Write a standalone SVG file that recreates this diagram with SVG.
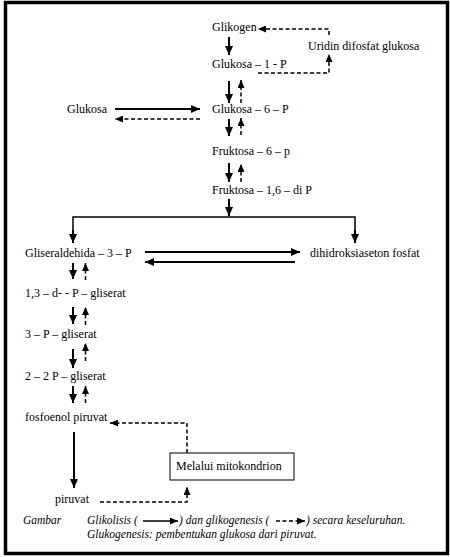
<svg xmlns="http://www.w3.org/2000/svg" width="450" height="557" viewBox="0 0 450 557">
<style>
text{font-family:"Liberation Serif","Times New Roman",serif;font-size:12px;fill:#000}
.cap{font-style:italic;font-size:11.5px}
.s{stroke:#000;stroke-width:2;fill:none}
.t{stroke:#000;stroke-width:1.5;fill:none}
.d{stroke:#000;stroke-width:1.5;fill:none;stroke-dasharray:4 2.5}
</style>
<defs>
<marker id="ah" markerUnits="userSpaceOnUse" markerWidth="9" markerHeight="8" refX="9" refY="4" orient="auto">
<path d="M0,0 L9,4 L0,8 z" fill="#000"/>
</marker>
<marker id="ahd" markerUnits="userSpaceOnUse" markerWidth="8" markerHeight="7" refX="8" refY="3.5" orient="auto">
<path d="M0,0 L8,3.5 L0,7 z" fill="#000"/>
</marker>
</defs>
<rect x="5.5" y="2.5" width="442" height="551" fill="#fff" stroke="#000" stroke-width="3.5"/>

<g id="glikogen"><text x="212" y="31">Glikogen</text></g>
<g id="udpg"><text x="308" y="50">Uridin difosfat glukosa</text></g>
<g id="g1p"><text x="212" y="68">Glukosa – 1 - P</text></g>
<g id="glukosa"><text x="67" y="113">Glukosa</text></g>
<g id="g6p"><text x="212" y="113">Glukosa – 6 – P</text></g>
<g id="f6p"><text x="212" y="155">Fruktosa – 6 – p</text></g>
<g id="f16p"><text x="212" y="194">Fruktosa – 1,6 – di P</text></g>
<g id="g3p"><text x="25" y="257">Gliseraldehida – 3 – P</text></g>
<g id="dhap"><text x="310" y="257">dihidroksiaseton fosfat</text></g>
<g id="bpg"><text x="25" y="297">1,3 – d- - P – gliserat</text></g>
<g id="pg3"><text x="25" y="338">3 – P – gliserat</text></g>
<g id="pg2"><text x="25" y="380">2 – 2 P – gliserat</text></g>
<g id="pep"><text x="25" y="421">fosfoenol piruvat</text></g>
<g id="mito"><rect x="170" y="453" width="124" height="27" fill="#fff" stroke="#000" stroke-width="1"/><text x="176" y="470">Melalui mitokondrion</text></g>
<g id="piruvat"><text x="55" y="503">piruvat</text></g>

<g id="connectors">
<polyline class="d" points="258,73 329,73 329,54" marker-end="url(#ahd)"/>
<polyline class="d" points="329,35 329,29 258,29" marker-end="url(#ahd)"/>
<line class="s" x1="229" y1="37" x2="229" y2="55" marker-end="url(#ah)"/>
<line class="s" x1="229" y1="81" x2="229" y2="103" marker-end="url(#ah)"/>
<line class="d" x1="241" y1="103" x2="241" y2="80" marker-end="url(#ahd)"/>
<line class="s" x1="229" y1="119" x2="229" y2="136" marker-end="url(#ah)"/>
<line class="d" x1="241" y1="135" x2="241" y2="118" marker-end="url(#ahd)"/>
<line class="s" x1="229" y1="163" x2="229" y2="182" marker-end="url(#ah)"/>
<line class="d" x1="241" y1="182" x2="241" y2="164" marker-end="url(#ahd)"/>
<line class="s" x1="115" y1="109" x2="200" y2="109" marker-end="url(#ah)"/>
<line class="d" x1="200" y1="119" x2="115" y2="119" marker-end="url(#ahd)"/>
<line class="s" x1="229" y1="199" x2="229" y2="216" marker-end="url(#ah)"/>
<polyline class="t" points="73,243 73,217 355,217 355,243"/>
<line class="s" x1="73" y1="230" x2="73" y2="243" marker-end="url(#ah)"/>
<line class="s" x1="355" y1="230" x2="355" y2="243" marker-end="url(#ah)"/>
<line class="s" x1="145" y1="252" x2="300" y2="252" marker-end="url(#ah)"/>
<line class="s" x1="295" y1="262" x2="145" y2="262" marker-end="url(#ah)"/>
<line class="s" x1="73" y1="263" x2="73" y2="279" marker-end="url(#ah)"/>
<line class="d" x1="85.5" y1="280" x2="85.5" y2="263" marker-end="url(#ahd)"/>
<line class="s" x1="73" y1="307" x2="73" y2="324" marker-end="url(#ah)"/>
<line class="d" x1="85.5" y1="325" x2="85.5" y2="307" marker-end="url(#ahd)"/>
<line class="s" x1="73" y1="349" x2="73" y2="368" marker-end="url(#ah)"/>
<line class="d" x1="85.5" y1="361" x2="85.5" y2="343" marker-end="url(#ahd)"/>
<line class="s" x1="73" y1="386" x2="73" y2="403" marker-end="url(#ah)"/>
<line class="d" x1="85.5" y1="403" x2="85.5" y2="386" marker-end="url(#ahd)"/>
<line class="s" x1="74" y1="432" x2="74" y2="488" marker-end="url(#ah)"/>
<polyline class="d" points="187,453 187,423 110,423" marker-end="url(#ahd)"/>
<polyline class="d" points="100,502 187,502 187,487" marker-end="url(#ahd)"/>
</g>

<g id="caption">
<text class="cap" x="23" y="524">Gambar</text>
<text class="cap" x="87" y="524">Glikolisis (</text>
<line class="t" x1="143" y1="521" x2="178" y2="521" marker-end="url(#ahd)"/>
<text class="cap" x="179" y="524">) dan  glikogenesis (</text>
<line class="d" x1="276" y1="521" x2="305" y2="521" marker-end="url(#ahd)"/>
<text class="cap" x="306" y="524">) secara keseluruhan.</text>
<text class="cap" x="87" y="538">Glukogenesis: pembentukan glukosa dari piruvat.</text>
</g>
</svg>
